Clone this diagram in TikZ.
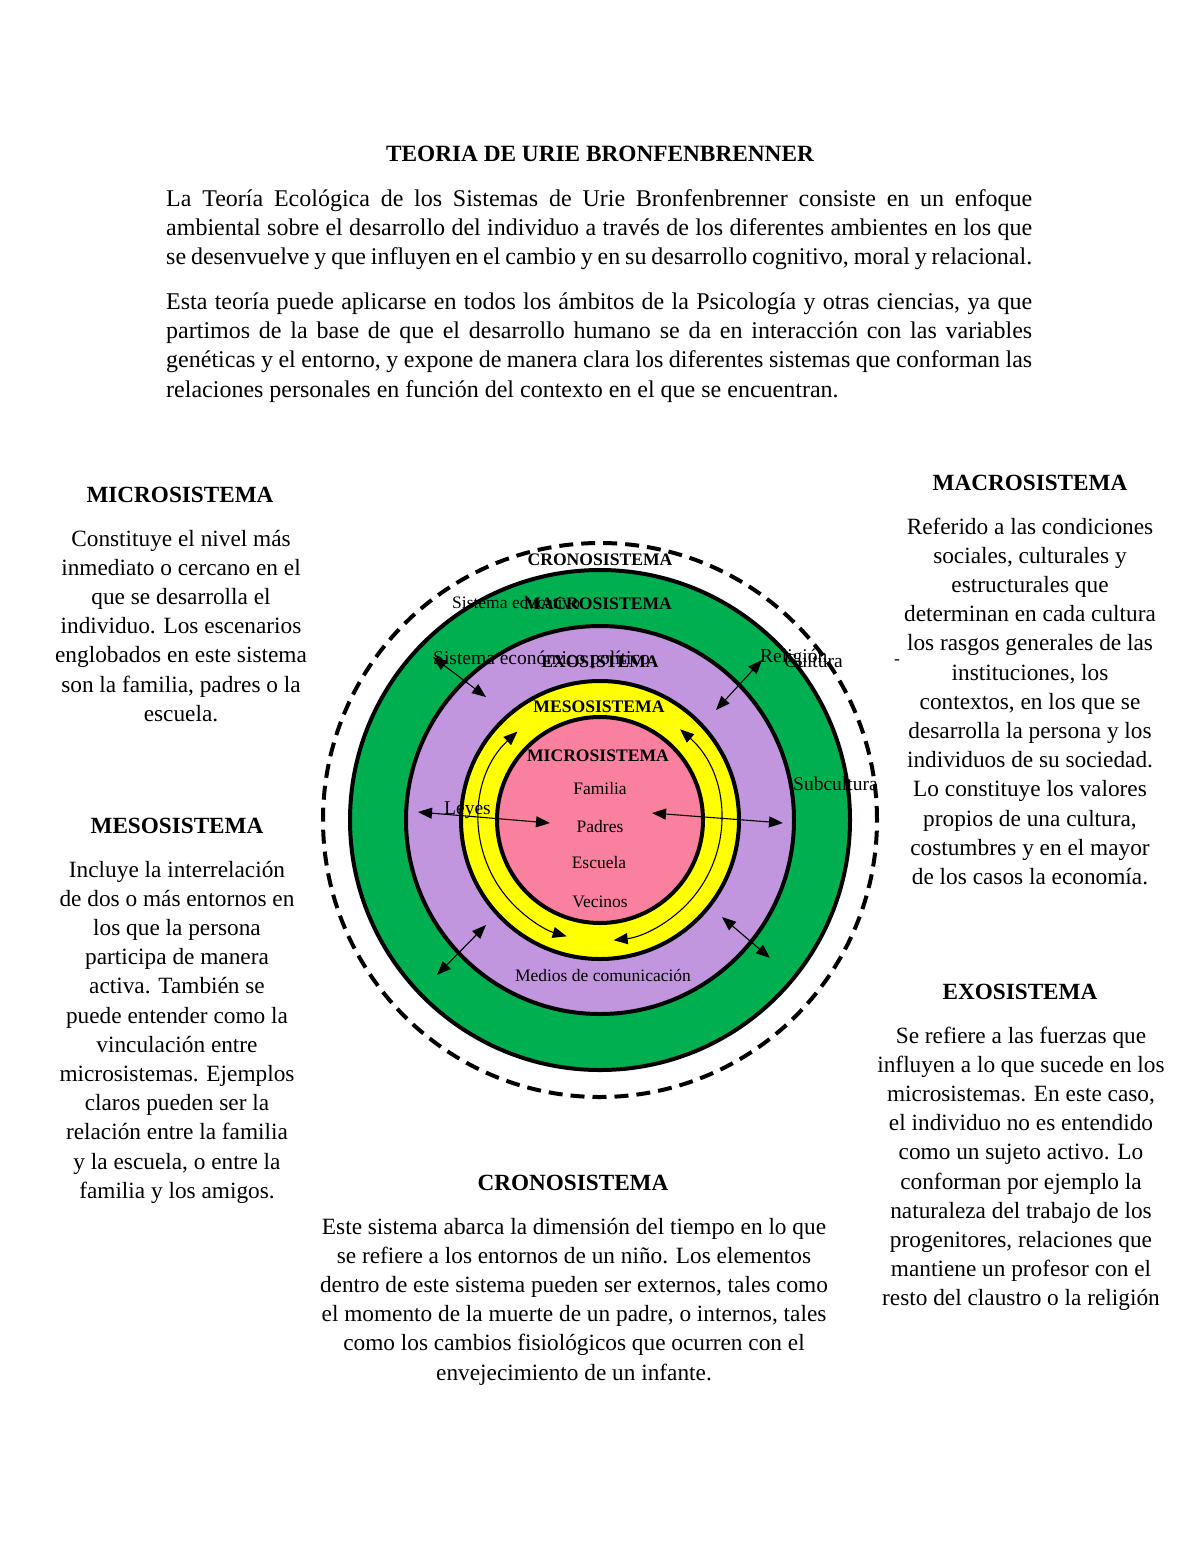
\documentclass[tikz,border=0pt]{standalone}
\usepackage{fontspec}
\setmainfont{Liberation Serif}
\usetikzlibrary{arrows.meta}
\definecolor{ringgreen}{RGB}{0,176,80}
\definecolor{ringpurple}{RGB}{194,150,222}
\definecolor{ringyellow}{RGB}{255,255,0}
\definecolor{ringpink}{RGB}{250,128,160}
\newcommand\sidefont{\fontsize{23.3}{29}\selectfont}
\newcommand\headfont{\fontsize{23.2}{29}\selectfont\bfseries}
\newcommand\topfont{\fontsize{24}{29}\selectfont}
\newcommand\textblock[5]{%
  \foreach \t [count=\i from 0] in {#5}{%
    \node[blockline, font=#4] (#1\i) at (#2,{#3+29.2*\i}) {\t};}}
\newcommand\jline[1]{\makebox[866pt][s]{#1}}
\tikzset{
  blockline/.style={anchor=base, inner sep=0pt},
  topline/.style={anchor=base west, inner sep=0pt, font=\topfont},
  ringlabel/.style={inner sep=0pt, font=\fontsize{17.6}{20}\selectfont\bfseries},
  innerlabel/.style={inner sep=0pt, font=\fontsize{17.5}{20}\selectfont},
  biglabel/.style={inner sep=0pt, font=\fontsize{19.5}{22}\selectfont},
  ring/.style={draw=black, line width=4pt},
  link/.style={line width=1.1pt, {Triangle[length=14pt,width=11pt]}-{Triangle[length=14pt,width=11pt]}},
}
\begin{document}
\begin{tikzpicture}[x=1pt,y=-1pt]
\useasboundingbox (0,0) rectangle (1200,1553);
\fill[white] (0,0) rectangle (1200,1553);
% ---------- title and introduction
\node[anchor=base, inner sep=0pt, font=\fontsize{23.3}{28}\selectfont\bfseries] (title) at (600,161) {TEORIA DE URIE BRONFENBRENNER};
\node[topline] (p1) at (166,206) {\jline{La Teoría Ecológica de los Sistemas de Urie Bronfenbrenner consiste en un enfoque}};
\node[topline] (p2) at (166,235) {\jline{ambiental sobre el desarrollo del individuo a través de los diferentes ambientes en los que}};
\node[topline] (p3) at (166,264) {\jline{se desenvuelve y que influyen en el cambio y en su desarrollo cognitivo, moral y relacional.}};
\node[topline] (p4) at (166,309) {\jline{Esta teoría puede aplicarse en todos los ámbitos de la Psicología y otras ciencias, ya que}};
\node[topline] (p5) at (166,338) {\jline{partimos de la base de que el desarrollo humano se da en interacción con las variables}};
\node[topline] (p6) at (166,367) {\jline{genéticas y el entorno, y expone de manera clara los diferentes sistemas que conforman las}};
\node[topline] (p7) at (166,397) {relaciones personales en función del contexto en el que se encuentran.};
% ---------- rings
\coordinate (c) at (600,820);
\draw[black, line width=4pt, dash pattern=on 14pt off 8pt] (c) circle[radius=277pt];
\draw[ring, fill=ringgreen] (c) circle[radius=250pt];
\draw[ring, fill=ringpurple] (c) circle[radius=194pt];
\draw[ring, fill=ringyellow] (c) circle[radius=139pt];
\draw[ring, fill=ringpink] (c) circle[radius=103pt];
% ---------- arrows
\coordinate (la) at ([shift={(133:121pt)}]c);
\coordinate (ra) at ([shift={(48.6:121pt)}]c);
\draw[link] (la) arc[start angle=133, end angle=254, radius=121pt];
\draw[link] (ra) arc[start angle=48.6, end angle=-83.5, radius=121pt];
\coordinate (a1s) at (433,657); \coordinate (a1e) at (486,697);
\coordinate (a2s) at (762,660); \coordinate (a2e) at (716,710);
\coordinate (a3s) at (418,812); \coordinate (a3e) at (550,823);
\coordinate (a4s) at (652,813); \coordinate (a4e) at (783,823);
\coordinate (a5s) at (486,925); \coordinate (a5e) at (437,975);
\coordinate (a6s) at (722,917); \coordinate (a6e) at (770,958);
\draw[link] (a1s) -- (a1e);
\draw[link] (a2s) -- (a2e);
\draw[link] (a3s) -- (a3e);
\draw[link] (a4s) -- (a4e);
\draw[link] (a5s) -- (a5e);
\draw[link] (a6s) -- (a6e);
% ---------- ring labels
\node[ringlabel] (lcrono) at (600,560) {CRONOSISTEMA};
\node[innerlabel, anchor=west] (ledu) at (452,603) {Sistema educativo};
\node[ringlabel] (lmacro) at (598,604) {MACROSISTEMA};
\node[biglabel, anchor=west] (leco) at (433,660) {Sistema económico político};
\node[ringlabel] (lexo) at (600,662) {EXOSISTEMA};
\node[ringlabel] (lmeso) at (599,707) {MESOSISTEMA};
\node[ringlabel] (lmicro) at (598,756) {MICROSISTEMA};
\node[innerlabel] (lfam) at (600,789) {Familia};
\node[innerlabel] (lpad) at (600,827) {Padres};
\node[innerlabel] (lesc) at (599,863) {Escuela};
\node[innerlabel] (lvec) at (600,902) {Vecinos};
\node[biglabel, anchor=west] (lley) at (444,810) {Leyes};
\node[innerlabel] (lmed) at (603,975) {Medios de comunicación};
\node[biglabel, anchor=west] (lrel) at (760,658) {Religión};
\node[biglabel, anchor=east] (lcul) at (843,661) {Cultura};
\node[innerlabel] (ldash) at (897,662) {-};
\node[biglabel, anchor=west] (lsub) at (793,784) {Subcultura};
% ---------- side texts
\node[blockline, font=\headfont] (hmicro) at (180,502) {MICROSISTEMA};
\textblock{micro}{181}{546}{\sidefont}{{Constituye el nivel más},{inmediato o cercano en el},{que se desarrolla el},{individuo. Los escenarios},{englobados en este sistema},{son la familia, padres o la},{escuela.}}
\node[blockline, font=\headfont] (hmeso) at (177,833) {MESOSISTEMA};
\textblock{meso}{177}{877}{\sidefont}{{Incluye la interrelación},{de dos o más entornos en},{los que la persona},{participa de manera},{activa. También se},{puede entender como la},{vinculación entre},{microsistemas. Ejemplos},{claros pueden ser la},{relación entre la familia},{y la escuela, o entre la},{familia y los amigos.}}
\node[blockline, font=\headfont] (hmacro) at (1030,490) {MACROSISTEMA};
\textblock{macro}{1030}{534}{\sidefont}{{Referido a las condiciones},{sociales, culturales y},{estructurales que},{determinan en cada cultura},{los rasgos generales de las},{instituciones, los},{contextos, en los que se},{desarrolla la persona y los},{individuos de su sociedad.},{Lo constituye los valores},{propios de una cultura,},{costumbres y en el mayor},{de los casos la economía.}}
\node[blockline, font=\headfont] (hexo) at (1020,999) {EXOSISTEMA};
\textblock{exo}{1021}{1043}{\sidefont}{{Se refiere a las fuerzas que},{influyen a lo que sucede en los},{microsistemas. En este caso,},{el individuo no es entendido},{como un sujeto activo. Lo},{conforman por ejemplo la},{naturaleza del trabajo de los},{progenitores, relaciones que},{mantiene un profesor con el},{resto del claustro o la religión}}
\node[blockline, font=\headfont] (hcrono) at (573,1190) {CRONOSISTEMA};
\textblock{crono}{574}{1234}{\sidefont}{{Este sistema abarca la dimensión del tiempo en lo que},{se refiere a los entornos de un niño. Los elementos},{dentro de este sistema pueden ser externos, tales como},{el momento de la muerte de un padre, o internos, tales},{como los cambios fisiológicos que ocurren con el},{envejecimiento de un infante.}}
\end{tikzpicture}
\end{document}
